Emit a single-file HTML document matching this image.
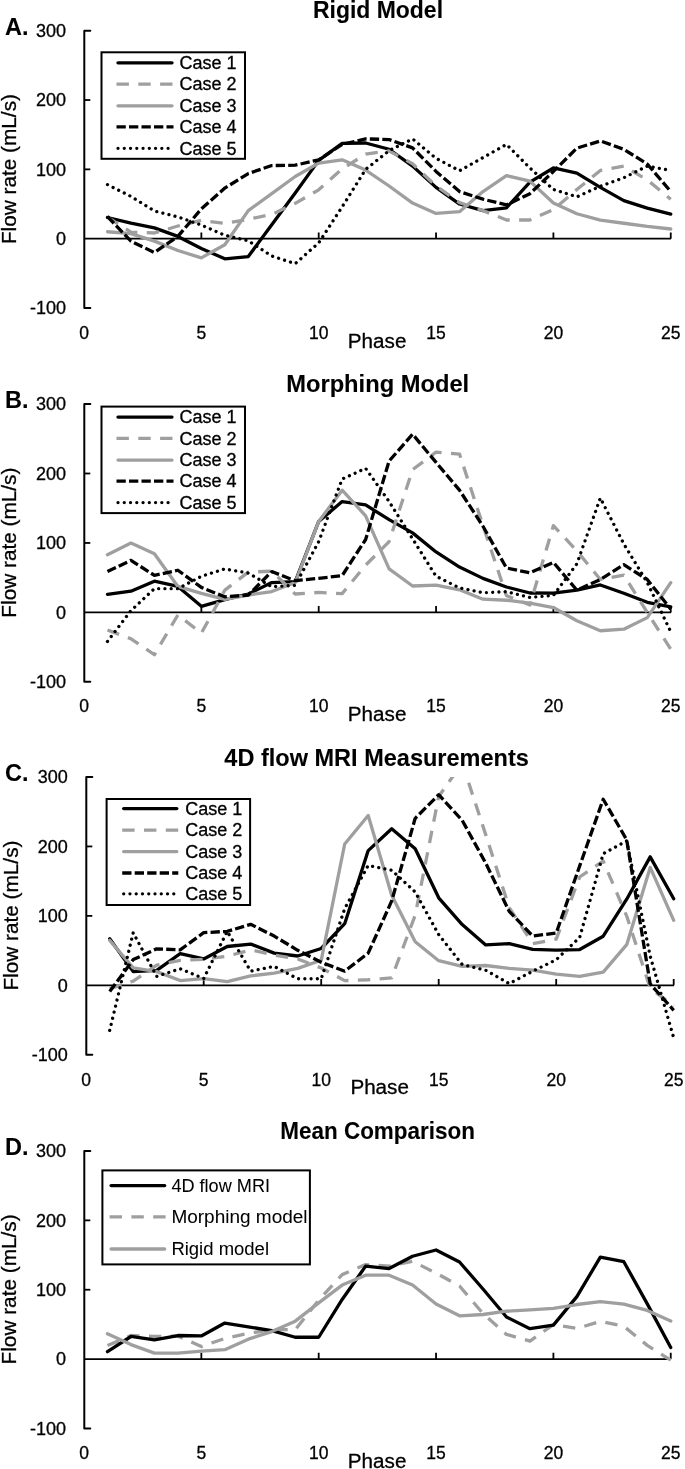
<!DOCTYPE html>
<html><head><meta charset="utf-8"><title>Flow rate comparison</title>
<style>
html,body{margin:0;padding:0;background:#fff;}
svg{display:block;}
text{font-family:"Liberation Sans",Arial,sans-serif;fill:#000;stroke:#000;stroke-width:0.3px;}
.t,.L{stroke-width:0.1px;}
.t{font-weight:bold;font-size:24px;}
.L{font-weight:bold;font-size:23.5px;}
.yl{font-size:18px;fill:#000;}
.xl{font-size:17.5px;fill:#000;}
.xt{font-size:20px;fill:#000;}
.yt{font-size:20px;fill:#000;}
.lg{font-size:18px;fill:#000;}
.lgd{stroke-width:0.05px;}
</style></head>
<body>
<svg width="685" height="1469" viewBox="0 0 685 1469">
<rect width="685" height="1469" fill="#fff"/>
<g>
<text x="378" y="18" class="t" text-anchor="middle" textLength="130" lengthAdjust="spacingAndGlyphs">Rigid Model</text>
<text x="5" y="34.6" class="L">A.</text>
<text x="66" y="37.01" class="yl" text-anchor="end">300</text>
<text x="66" y="106.34" class="yl" text-anchor="end">200</text>
<text x="66" y="175.67" class="yl" text-anchor="end">100</text>
<text x="66" y="245" class="yl" text-anchor="end">0</text>
<text x="66" y="314.33" class="yl" text-anchor="end">-100</text>
<text class="yt" transform="translate(15.8 169.07) rotate(-90)" text-anchor="middle" textLength="150" lengthAdjust="spacingAndGlyphs">Flow rate (mL/s)</text>
<text x="84" y="338.53" class="xl" text-anchor="middle">0</text>
<text x="201.35" y="338.53" class="xl" text-anchor="middle">5</text>
<text x="318.7" y="338.53" class="xl" text-anchor="middle">10</text>
<text x="436.05" y="338.53" class="xl" text-anchor="middle">15</text>
<text x="553.4" y="338.53" class="xl" text-anchor="middle">20</text>
<text x="670.75" y="338.53" class="xl" text-anchor="middle">25</text>
<text x="347.86" y="347.63" class="xt" textLength="58.5" lengthAdjust="spacingAndGlyphs">Phase</text>
<path d="M90.3 30.71 H84.3 V308.03 H90.3" fill="none" stroke="#000" stroke-width="2" stroke-linejoin="round" stroke-linecap="round"/>
<path d="M84.3 100.04 H90.3" stroke="#000" stroke-width="1.8"/>
<path d="M84.3 169.37 H90.3" stroke="#000" stroke-width="1.8"/>
<path d="M84.3 238.7H671.05M201.35 238.7V232.4M318.7 238.7V232.4M436.05 238.7V232.4M553.4 238.7V232.4M670.75 238.7V232.4" fill="none" stroke="#000" stroke-width="1.8"/>
<clipPath id="cpA"><rect x="84.3" y="30.71" width="590.45" height="277.32"/></clipPath>
<polyline points="107.47,217.49 130.94,223.17 154.41,227.88 177.88,236.41 201.35,248.41 224.82,258.81 248.29,256.52 271.76,224.83 295.23,192.94 318.7,160.36 342.17,143.37 365.64,143.02 389.11,149.26 412.58,166.11 436.05,187.4 459.52,204.03 482.99,210.62 506.46,207.78 529.93,182.2 553.4,167.98 576.87,173.11 600.34,187.4 623.81,200.57 647.28,208.19 670.75,214.16" fill="none" stroke="#000" stroke-width="3.3" stroke-linejoin="round" stroke-linecap="round" clip-path="url(#cpA)"/>
<polyline points="107.47,217.21 130.94,232.04 154.41,233.01 177.88,226.01 201.35,220.33 224.82,223.45 248.29,219.29 271.76,214.43 295.23,203.34 318.7,189.82 342.17,168.95 365.64,154.12 389.11,150.93 412.58,163.82 436.05,186.01 459.52,202.65 482.99,210.62 506.46,219.98 529.93,219.98 553.4,209.58 576.87,189.48 600.34,170.41 623.81,166.18 647.28,179.91 670.75,199.18" fill="none" stroke="#9f9f9f" stroke-width="3.3" stroke-linejoin="round" stroke-linecap="butt" stroke-dasharray="12.4 9.4" clip-path="url(#cpA)"/>
<polyline points="107.47,231.77 130.94,233.57 154.41,241.13 177.88,250.49 201.35,257.84 224.82,244.73 248.29,210.62 271.76,193.64 295.23,176.51 318.7,163.13 342.17,159.8 365.64,170.06 389.11,186.01 412.58,203.06 436.05,213.46 459.52,211.66 482.99,191.56 506.46,175.61 529.93,181.16 553.4,203.06 576.87,213.74 600.34,220.12 623.81,223.24 647.28,226.43 670.75,228.99" fill="none" stroke="#9f9f9f" stroke-width="3.3" stroke-linejoin="round" stroke-linecap="round" clip-path="url(#cpA)"/>
<polyline points="107.47,216.51 130.94,241.13 154.41,252.57 177.88,236.41 201.35,208.89 224.82,188.09 248.29,173.53 271.76,165.56 295.23,165.21 318.7,159.87 342.17,144.41 365.64,138.86 389.11,139.56 412.58,147.88 436.05,171.45 459.52,191.56 482.99,199.18 506.46,204.94 529.93,193.64 553.4,171.45 576.87,148.16 600.34,140.94 623.81,149.26 647.28,164.03 670.75,191.56" fill="none" stroke="#000" stroke-width="3.3" stroke-linejoin="round" stroke-linecap="butt" stroke-dasharray="9.3 3.2" clip-path="url(#cpA)"/>
<polyline points="107.47,184.62 130.94,196.41 154.41,210.97 177.88,216.93 201.35,225.04 224.82,235.23 248.29,240.78 271.76,256.03 295.23,263.66 318.7,242.86 342.17,206.81 365.64,169.37 389.11,150.65 412.58,138.86 436.05,158.28 459.52,170.76 482.99,157.58 506.46,144.41 529.93,167.98 553.4,189.48 576.87,196.82 600.34,186.22 623.81,177.76 647.28,166.18 670.75,170.41" fill="none" stroke="#000" stroke-width="3.3" stroke-linejoin="round" stroke-linecap="round" stroke-dasharray="0.01 6.25" clip-path="url(#cpA)"/>
<rect x="101.5" y="52.3" width="143.5" height="106.5" fill="#fff" stroke="#000" stroke-width="2"/>
<path d="M118 62.8H172" fill="none" stroke="#000" stroke-width="3.3" stroke-linejoin="round" stroke-linecap="round"/>
<text x="179.5" y="69" class="lg">Case 1</text>
<path d="M116.5 84.1H173.5" fill="none" stroke="#9f9f9f" stroke-width="3.3" stroke-linejoin="round" stroke-linecap="butt" stroke-dasharray="12.4 9.4"/>
<text x="179.5" y="90.3" class="lg">Case 2</text>
<path d="M118 105.8H172" fill="none" stroke="#9f9f9f" stroke-width="3.3" stroke-linejoin="round" stroke-linecap="round"/>
<text x="179.5" y="112" class="lg">Case 3</text>
<path d="M116.5 126.8H173.5" fill="none" stroke="#000" stroke-width="3.3" stroke-linejoin="round" stroke-linecap="butt" stroke-dasharray="9.3 3.2"/>
<text x="179.5" y="133" class="lg">Case 4</text>
<path d="M118 148.3H172" fill="none" stroke="#000" stroke-width="3.3" stroke-linejoin="round" stroke-linecap="round" stroke-dasharray="0.01 6.25"/>
<text x="179.5" y="154.5" class="lg">Case 5</text>
</g>
<g>
<text x="377.7" y="392.4" class="t" text-anchor="middle" textLength="183" lengthAdjust="spacingAndGlyphs">Morphing Model</text>
<text x="5" y="408.4" class="L">B.</text>
<text x="66" y="410.35" class="yl" text-anchor="end">300</text>
<text x="66" y="479.8" class="yl" text-anchor="end">200</text>
<text x="66" y="549.25" class="yl" text-anchor="end">100</text>
<text x="66" y="618.7" class="yl" text-anchor="end">0</text>
<text x="66" y="688.15" class="yl" text-anchor="end">-100</text>
<text class="yt" transform="translate(15.8 542.65) rotate(-90)" text-anchor="middle" textLength="150" lengthAdjust="spacingAndGlyphs">Flow rate (mL/s)</text>
<text x="84" y="712.35" class="xl" text-anchor="middle">0</text>
<text x="201.35" y="712.35" class="xl" text-anchor="middle">5</text>
<text x="318.7" y="712.35" class="xl" text-anchor="middle">10</text>
<text x="436.05" y="712.35" class="xl" text-anchor="middle">15</text>
<text x="553.4" y="712.35" class="xl" text-anchor="middle">20</text>
<text x="670.75" y="712.35" class="xl" text-anchor="middle">25</text>
<text x="347.86" y="721.45" class="xt" textLength="58.5" lengthAdjust="spacingAndGlyphs">Phase</text>
<path d="M90.3 404.05 H84.3 V681.85 H90.3" fill="none" stroke="#000" stroke-width="2" stroke-linejoin="round" stroke-linecap="round"/>
<path d="M84.3 473.5 H90.3" stroke="#000" stroke-width="1.8"/>
<path d="M84.3 542.95 H90.3" stroke="#000" stroke-width="1.8"/>
<path d="M84.3 612.4H671.05M201.35 612.4V606.1M318.7 612.4V606.1M436.05 612.4V606.1M553.4 612.4V606.1M670.75 612.4V606.1" fill="none" stroke="#000" stroke-width="1.8"/>
<clipPath id="cpB"><rect x="84.3" y="404.05" width="590.45" height="277.8"/></clipPath>
<polyline points="107.47,594.34 130.94,591.15 154.41,581.15 177.88,586.43 201.35,606.36 224.82,599.69 248.29,594 271.76,582.54 295.23,581.63 318.7,521.42 342.17,501.56 365.64,504.96 389.11,519.61 412.58,532.88 436.05,551.98 459.52,567.05 482.99,578.37 506.46,586.98 529.93,593.02 553.4,593.09 576.87,590.18 600.34,584.97 623.81,593.23 647.28,602.33 670.75,606.98" fill="none" stroke="#000" stroke-width="3.3" stroke-linejoin="round" stroke-linecap="round" clip-path="url(#cpB)"/>
<polyline points="107.47,630.04 130.94,638.79 154.41,654.76 177.88,614.9 201.35,633.24 224.82,590.18 248.29,572.12 271.76,571.22 295.23,594 318.7,592.47 342.17,593.65 365.64,565.17 389.11,541.56 412.58,469.68 436.05,452.18 459.52,454.05 482.99,525.59 506.46,595.73 529.93,604.97 553.4,525.59 576.87,550.94 600.34,579.48 623.81,575.24 647.28,612.4 670.75,649.21" fill="none" stroke="#9f9f9f" stroke-width="3.3" stroke-linejoin="round" stroke-linecap="butt" stroke-dasharray="12.4 9.4" clip-path="url(#cpB)"/>
<polyline points="107.47,554.76 130.94,543.09 154.41,553.78 177.88,586.43 201.35,593.3 224.82,599.41 248.29,595.04 271.76,591.56 295.23,582.54 318.7,521.42 342.17,490.17 365.64,515.86 389.11,568.92 412.58,586.01 436.05,585.04 459.52,589.83 482.99,599.2 506.46,600.25 529.93,603.09 553.4,607.54 576.87,620.73 600.34,630.73 623.81,629.21 647.28,617.61 670.75,582.68" fill="none" stroke="#9f9f9f" stroke-width="3.3" stroke-linejoin="round" stroke-linecap="round" clip-path="url(#cpB)"/>
<polyline points="107.47,571.56 130.94,560.31 154.41,575.38 177.88,570.24 201.35,587.4 224.82,596.84 248.29,595.04 271.76,571.56 295.23,580.73 318.7,578.37 342.17,575.59 365.64,539.48 389.11,461 412.58,434.19 436.05,462.39 459.52,490.17 482.99,526.28 506.46,567.95 529.93,572.81 553.4,562.4 576.87,590.18 600.34,579.48 623.81,564.69 647.28,579.48 670.75,609.14" fill="none" stroke="#000" stroke-width="3.3" stroke-linejoin="round" stroke-linecap="butt" stroke-dasharray="9.3 3.2" clip-path="url(#cpB)"/>
<polyline points="107.47,641.43 130.94,610.66 154.41,588.65 177.88,588.65 201.35,576.29 224.82,568.92 248.29,573.09 271.76,586.7 295.23,585.31 318.7,541.56 342.17,479.06 365.64,468.36 389.11,501.56 412.58,538.78 436.05,576.29 459.52,587.88 482.99,592.68 506.46,591.7 529.93,597.4 553.4,595.45 576.87,563.78 600.34,498.02 623.81,543.92 647.28,582.54 670.75,631.85" fill="none" stroke="#000" stroke-width="3.3" stroke-linejoin="round" stroke-linecap="round" stroke-dasharray="0.01 6.25" clip-path="url(#cpB)"/>
<rect x="101.5" y="406.6" width="143.5" height="106.5" fill="#fff" stroke="#000" stroke-width="2"/>
<path d="M118 417.1H172" fill="none" stroke="#000" stroke-width="3.3" stroke-linejoin="round" stroke-linecap="round"/>
<text x="179.5" y="423.3" class="lg">Case 1</text>
<path d="M116.5 438.4H173.5" fill="none" stroke="#9f9f9f" stroke-width="3.3" stroke-linejoin="round" stroke-linecap="butt" stroke-dasharray="12.4 9.4"/>
<text x="179.5" y="444.6" class="lg">Case 2</text>
<path d="M118 460.1H172" fill="none" stroke="#9f9f9f" stroke-width="3.3" stroke-linejoin="round" stroke-linecap="round"/>
<text x="179.5" y="466.3" class="lg">Case 3</text>
<path d="M116.5 481.1H173.5" fill="none" stroke="#000" stroke-width="3.3" stroke-linejoin="round" stroke-linecap="butt" stroke-dasharray="9.3 3.2"/>
<text x="179.5" y="487.3" class="lg">Case 4</text>
<path d="M118 502.6H172" fill="none" stroke="#000" stroke-width="3.3" stroke-linejoin="round" stroke-linecap="round" stroke-dasharray="0.01 6.25"/>
<text x="179.5" y="508.8" class="lg">Case 5</text>
</g>
<g>
<text x="376.6" y="765.6" class="t" text-anchor="middle" textLength="304.5" lengthAdjust="spacingAndGlyphs">4D flow MRI Measurements</text>
<text x="5" y="781.3" class="L">C.</text>
<text x="67.8" y="783.31" class="yl" text-anchor="end">300</text>
<text x="67.8" y="852.74" class="yl" text-anchor="end">200</text>
<text x="67.8" y="922.17" class="yl" text-anchor="end">100</text>
<text x="67.8" y="991.6" class="yl" text-anchor="end">0</text>
<text x="67.8" y="1061.03" class="yl" text-anchor="end">-100</text>
<text class="yt" transform="translate(17.8 915.57) rotate(-90)" text-anchor="middle" textLength="150" lengthAdjust="spacingAndGlyphs">Flow rate (mL/s)</text>
<text x="86.2" y="1086.23" class="xl" text-anchor="middle">0</text>
<text x="203.7" y="1086.23" class="xl" text-anchor="middle">5</text>
<text x="321.2" y="1086.23" class="xl" text-anchor="middle">10</text>
<text x="438.7" y="1086.23" class="xl" text-anchor="middle">15</text>
<text x="556.2" y="1086.23" class="xl" text-anchor="middle">20</text>
<text x="673.7" y="1086.23" class="xl" text-anchor="middle">25</text>
<text x="350.4" y="1094.33" class="xt" textLength="58.5" lengthAdjust="spacingAndGlyphs">Phase</text>
<path d="M92.3 777.01 H86.3 V1054.73 H92.3" fill="none" stroke="#000" stroke-width="2" stroke-linejoin="round" stroke-linecap="round"/>
<path d="M86.3 846.44 H92.3" stroke="#000" stroke-width="1.8"/>
<path d="M86.3 915.87 H92.3" stroke="#000" stroke-width="1.8"/>
<path d="M86.3 985.3H674M203.7 985.3V979M321.2 985.3V979M438.7 985.3V979M556.2 985.3V979M673.7 985.3V979" fill="none" stroke="#000" stroke-width="1.8"/>
<clipPath id="cpC"><rect x="86.3" y="777.01" width="591.4" height="277.72"/></clipPath>
<polyline points="109.7,938.78 133.2,971.62 156.7,970.3 180.2,953.57 203.7,958.92 227.2,946.49 250.7,944.06 274.2,953.15 297.7,956 321.2,948.5 344.7,923.72 368.2,850.61 391.7,828.74 415.2,848.73 438.7,897.82 462.2,924.62 485.7,944.89 509.2,943.64 532.7,949.34 556.2,950.1 579.7,949.54 603.2,936.21 626.7,899.21 650.2,856.85 673.7,898.72" fill="none" stroke="#000" stroke-width="3.3" stroke-linejoin="round" stroke-linecap="round" clip-path="url(#cpC)"/>
<polyline points="109.7,988.77 133.2,981.13 156.7,965.17 180.2,960.31 203.7,959.26 227.2,956.14 250.7,949.89 274.2,955.03 297.7,958.92 321.2,967.94 344.7,980.65 368.2,979.75 391.7,977.8 415.2,915.18 438.7,796.45 462.2,763.12 485.7,834.64 509.2,907.54 532.7,943.64 556.2,939.13 579.7,876.99 603.2,861.02 626.7,916.08 650.2,988.08 673.7,1006.13" fill="none" stroke="#9f9f9f" stroke-width="3.3" stroke-linejoin="round" stroke-linecap="butt" stroke-dasharray="12.4 9.4" clip-path="url(#cpC)"/>
<polyline points="109.7,940.31 133.2,967.94 156.7,971.62 180.2,980.58 203.7,978.7 227.2,981.62 250.7,975.93 274.2,973.08 297.7,968.36 321.2,960.31 344.7,844.01 368.2,815.54 391.7,895.32 415.2,941.77 438.7,960.72 462.2,966.42 485.7,965.51 509.2,968.36 532.7,970.23 556.2,974.19 579.7,976.41 603.2,972.18 626.7,944.68 650.2,867.41 673.7,920.31" fill="none" stroke="#9f9f9f" stroke-width="3.3" stroke-linejoin="round" stroke-linecap="round" clip-path="url(#cpC)"/>
<polyline points="109.7,991.55 133.2,959.61 156.7,948.85 180.2,949.89 203.7,932.67 227.2,931.35 250.7,924.34 274.2,936.07 297.7,950.31 321.2,962.18 344.7,971.21 368.2,953.15 391.7,900.94 415.2,818.32 438.7,794.71 462.2,820.33 485.7,863.1 509.2,911.36 532.7,936 556.2,933.09 579.7,865.88 603.2,799.23 626.7,839.84 650.2,983.91 673.7,1010.29" fill="none" stroke="#000" stroke-width="3.3" stroke-linejoin="round" stroke-linecap="butt" stroke-dasharray="9.3 3.2" clip-path="url(#cpC)"/>
<polyline points="109.7,1030.43 133.2,932.74 156.7,976.41 180.2,968.78 203.7,978.5 227.2,931.35 250.7,971.21 274.2,966.42 297.7,978.77 321.2,978.77 344.7,908.58 368.2,865.46 391.7,870.19 415.2,891.99 438.7,934.62 462.2,964.54 485.7,970.23 509.2,983.56 532.7,971.21 556.2,959.75 579.7,937.39 603.2,853.66 626.7,840.89 650.2,956.14 673.7,1037.79" fill="none" stroke="#000" stroke-width="3.3" stroke-linejoin="round" stroke-linecap="round" stroke-dasharray="0.01 6.25" clip-path="url(#cpC)"/>
<rect x="106.6" y="799" width="143.5" height="106" fill="#fff" stroke="#000" stroke-width="2"/>
<path d="M123.7 808.6H176.8" fill="none" stroke="#000" stroke-width="3.3" stroke-linejoin="round" stroke-linecap="round"/>
<text x="185.3" y="814.8" class="lg">Case 1</text>
<path d="M122.2 830.2H178.3" fill="none" stroke="#9f9f9f" stroke-width="3.3" stroke-linejoin="round" stroke-linecap="butt" stroke-dasharray="12.4 9.4"/>
<text x="185.3" y="836.4" class="lg">Case 2</text>
<path d="M123.7 851.6H176.8" fill="none" stroke="#9f9f9f" stroke-width="3.3" stroke-linejoin="round" stroke-linecap="round"/>
<text x="185.3" y="857.8" class="lg">Case 3</text>
<path d="M122.2 873H178.3" fill="none" stroke="#000" stroke-width="3.3" stroke-linejoin="round" stroke-linecap="butt" stroke-dasharray="9.3 3.2"/>
<text x="185.3" y="879.2" class="lg">Case 4</text>
<path d="M123.7 893.8H176.8" fill="none" stroke="#000" stroke-width="3.3" stroke-linejoin="round" stroke-linecap="round" stroke-dasharray="0.01 6.25"/>
<text x="185.3" y="900" class="lg">Case 5</text>
</g>
<g>
<text x="377.6" y="1138.9" class="t" text-anchor="middle" textLength="194.7" lengthAdjust="spacingAndGlyphs">Mean Comparison</text>
<text x="5" y="1154.9" class="L">D.</text>
<text x="66" y="1157.29" class="yl" text-anchor="end">300</text>
<text x="66" y="1226.66" class="yl" text-anchor="end">200</text>
<text x="66" y="1296.03" class="yl" text-anchor="end">100</text>
<text x="66" y="1365.4" class="yl" text-anchor="end">0</text>
<text x="66" y="1434.77" class="yl" text-anchor="end">-100</text>
<text class="yt" transform="translate(15.8 1289.43) rotate(-90)" text-anchor="middle" textLength="150" lengthAdjust="spacingAndGlyphs">Flow rate (mL/s)</text>
<text x="84" y="1458.97" class="xl" text-anchor="middle">0</text>
<text x="201.35" y="1458.97" class="xl" text-anchor="middle">5</text>
<text x="318.7" y="1458.97" class="xl" text-anchor="middle">10</text>
<text x="436.05" y="1458.97" class="xl" text-anchor="middle">15</text>
<text x="553.4" y="1458.97" class="xl" text-anchor="middle">20</text>
<text x="670.75" y="1458.97" class="xl" text-anchor="middle">25</text>
<text x="347.86" y="1468.07" class="xt" textLength="58.5" lengthAdjust="spacingAndGlyphs">Phase</text>
<path d="M90.3 1150.99 H84.3 V1428.47 H90.3" fill="none" stroke="#000" stroke-width="2" stroke-linejoin="round" stroke-linecap="round"/>
<path d="M84.3 1220.36 H90.3" stroke="#000" stroke-width="1.8"/>
<path d="M84.3 1289.73 H90.3" stroke="#000" stroke-width="1.8"/>
<path d="M84.3 1359.1H671.05M201.35 1359.1V1352.8M318.7 1359.1V1352.8M436.05 1359.1V1352.8M553.4 1359.1V1352.8M670.75 1359.1V1352.8" fill="none" stroke="#000" stroke-width="1.8"/>
<clipPath id="cpD"><rect x="84.3" y="1150.99" width="590.45" height="277.48"/></clipPath>
<polyline points="107.47,1345.57 130.94,1335.51 154.41,1336.49 177.88,1336.07 201.35,1346.61 224.82,1338.43 248.29,1333.43 271.76,1329.69 295.23,1329.69 318.7,1300.14 342.17,1274.61 365.64,1264.55 389.11,1266.14 412.58,1261.29 436.05,1273.08 459.52,1286.05 482.99,1313.52 506.46,1334.4 529.93,1341.06 553.4,1324.62 576.87,1328.44 600.34,1321.43 623.81,1326.29 647.28,1345.36 670.75,1360.14" fill="none" stroke="#9f9f9f" stroke-width="3.3" stroke-linejoin="round" stroke-linecap="butt" stroke-dasharray="12.4 9.4" clip-path="url(#cpD)"/>
<polyline points="107.47,1351.68 130.94,1336.49 154.41,1339.88 177.88,1335.51 201.35,1335.93 224.82,1323.03 248.29,1326.84 271.76,1330.66 295.23,1337.25 318.7,1337.25 342.17,1299.44 365.64,1266.14 389.11,1268.57 412.58,1256.22 436.05,1249.98 459.52,1261.98 482.99,1289.04 506.46,1316.99 529.93,1328.72 553.4,1325.11 576.87,1296.67 600.34,1257.13 623.81,1261.7 647.28,1303.88 670.75,1347.45" fill="none" stroke="#000" stroke-width="3.3" stroke-linejoin="round" stroke-linecap="round" clip-path="url(#cpD)"/>
<polyline points="107.47,1333.78 130.94,1344.6 154.41,1353.13 177.88,1353.13 201.35,1351.12 224.82,1349.67 248.29,1339.19 271.76,1331.56 295.23,1321.15 318.7,1302.91 342.17,1285.08 365.64,1275.16 389.11,1275.16 412.58,1285.08 436.05,1304.02 459.52,1315.81 482.99,1314.5 506.46,1311.23 529.93,1309.85 553.4,1308.46 576.87,1304.51 600.34,1301.52 623.81,1304.09 647.28,1310.4 670.75,1320.95" fill="none" stroke="#9f9f9f" stroke-width="3.3" stroke-linejoin="round" stroke-linecap="round" clip-path="url(#cpD)"/>
<rect x="102.4" y="1170.4" width="207.5" height="94" fill="#fff" stroke="#000" stroke-width="2"/>
<path d="M111.1 1185.6H164.7" fill="none" stroke="#000" stroke-width="3.3" stroke-linejoin="round" stroke-linecap="round"/>
<text x="171.4" y="1191.8" class="lg lgd" textLength="98.6" lengthAdjust="spacingAndGlyphs">4D flow MRI</text>
<path d="M109.6 1216.9H166.2" fill="none" stroke="#9f9f9f" stroke-width="3.3" stroke-linejoin="round" stroke-linecap="butt" stroke-dasharray="12.4 9.4"/>
<text x="171.4" y="1223.1" class="lg lgd" textLength="136.2" lengthAdjust="spacingAndGlyphs">Morphing model</text>
<path d="M111.1 1249H164.7" fill="none" stroke="#9f9f9f" stroke-width="3.3" stroke-linejoin="round" stroke-linecap="round"/>
<text x="171.4" y="1255.2" class="lg lgd" textLength="97.6" lengthAdjust="spacingAndGlyphs">Rigid model</text>
</g>
</svg>
</body></html>
